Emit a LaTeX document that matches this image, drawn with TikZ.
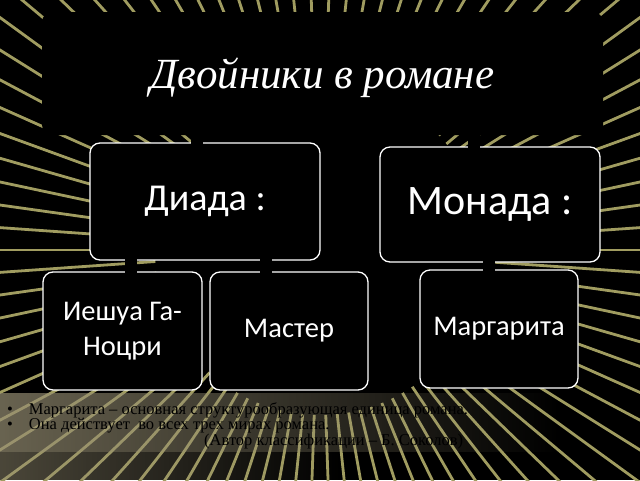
\documentclass[tikz,border=0pt]{standalone}
\usepackage{fontspec}
\setmainfont{Liberation Serif}
\newfontfamily\boxfont{Carlito}
\usetikzlibrary{calc,fadings}
\definecolor{rayc}{RGB}{160,156,96}
\definecolor{bandc}{RGB}{150,142,115}

\begin{document}
\begin{tikzpicture}[x=1pt,y=-1pt]
    \tikzset{box/.style = {shape=rectangle,rounded corners=10pt,draw=white,
        line width=1.3pt,fill=black,text=white,align=center,inner sep=0pt,
        font=\boxfont\fontsize{28.5}{35}\selectfont}}
    \tikzset{link/.style = {-,line width=12pt,black,shorten <=-2pt,shorten >=-2pt}}
    \tikzset{ray/.style = {line width=2.8pt,rayc}}
    \tikzset{note/.style = {anchor=west,inner sep=0pt,black,
        font=\fontsize{16.5}{16}\selectfont}}
    % background
    \useasboundingbox (0,0) rectangle (640,480);
    \clip (0,0) rectangle (640,480);
    \fill[black] (0,0) rectangle (640,480);
    \foreach \a in {0,4,...,356}
        \draw[ray] (320,250) ++(\a:165) -- ++(\a:520);
    \fill[bandc,fill opacity=0.7,path fading=east] (0,393) rectangle (560,452);
    \fill[bandc,fill opacity=0.5,path fading=east] (0,452) rectangle (340,480);

    % boxes
    \node[box,draw=none,minimum width=561pt,minimum height=123pt,
        font=\itshape\fontsize{43}{48}\selectfont] (title) at (322.5,73.5) {\raisebox{-14.5pt}[0pt][0pt]{Двойники в романе}};
    \node[box,minimum width=230pt,minimum height=117pt,
        font=\boxfont\fontsize{38}{40}\selectfont] (diada) at (205,201.5) {Диада :};
    \node[box,minimum width=220pt,minimum height=115pt,
        font=\boxfont\fontsize{42}{44}\selectfont] (monada) at (490,204.5) {Монада :};
    \node[box,minimum width=159pt,minimum height=118pt] (ieshua) at (122.5,331) {Иешуа Га-\\Ноцри};
    \node[box,minimum width=158pt,minimum height=118pt] (master) at (289,331) {Мастер};
    \node[box,minimum width=158pt,minimum height=118pt] (margarita) at (499,329) {Маргарита};

    % links
    \draw[link] ($(diada.north |- title.south)+(-8,0)$) -- ($(diada.north)+(-8,0)$);
    \draw[link] ($(monada.north |- title.south)+(-16,0)$) -- ($(monada.north)+(-16,0)$);
    \draw[link] ($(ieshua.north |- diada.south)+(8,0)$) -- ($(ieshua.north)+(8,0)$);
    \draw[link] ($(master.north |- diada.south)+(-23,0)$) -- ($(master.north)+(-23,0)$);
    \draw[link] ($(margarita.north |- monada.south)+(-10,0)$) -- ($(margarita.north)+(-10,0)$);

    % notes
    \node[note] (note1) at (7,410) {•\hspace{16pt}Маргарита – основная структурообразующая единица романа.};
    \node[note] (note2) at (7,426) {•\hspace{16pt}Она действует \ во всех трех мирах романа.};
    \node[note] (note3) at (204,442) {(Автор классификации – Б. Соколов)};
\end{tikzpicture}
\end{document}
